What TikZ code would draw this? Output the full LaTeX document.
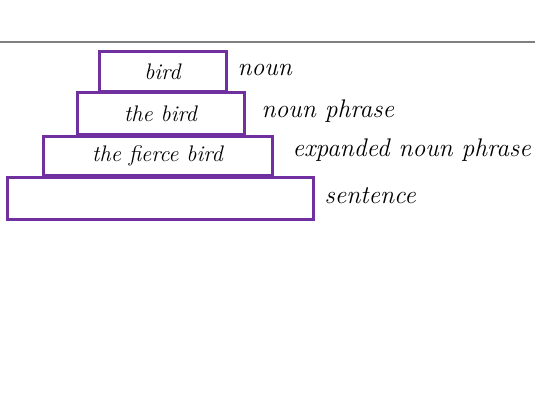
\documentclass[tikz,border=0pt]{standalone}
\usepackage{tikz}
\usetikzlibrary{
    positioning % for placing the labels next to the boxes
}
\definecolor{stepviolet}{RGB}{112,48,160}

\begin{document}
\begin{tikzpicture}[
    x=1pt,y=-1pt,
    every box/.style   = {draw=stepviolet,line width=3pt,inner sep=0pt,
                          font=\fontsize{22.5}{24}\selectfont\itshape},
    every label/.style = {inner sep=0pt,anchor=west,
                          font=\fontsize{25.5}{28}\selectfont\itshape}
]

% page and rule at the top
    \useasboundingbox (0,0) rectangle (535,401);
    \coordinate (rl) at (0,42);
    \coordinate (rr) at (535,42);
    \draw [black!50,line width=1.2pt] (rl) -- (rr);

% stacked boxes
    \node [every box,minimum width=127pt,minimum height=40pt] (b1) at (162.5,72)  {bird};
    \node [every box,minimum width=167pt,minimum height=41pt] (b2) at (160.5,113.5) {the bird};
    \node [every box,minimum width=229pt,minimum height=39pt] (b3) at (157.5,155.5) {the fierce bird};
    \node [every box,minimum width=306pt,minimum height=42pt] (b4) at (160,198)  {};

% word classes
    \node [every label,right=10pt of b1.east,yshift=2pt] (l1) {noun};
    \node [every label,right=16pt of b2.east,yshift=2pt] (l2) {noun phrase};
    \node [every label,right=19pt of b3.east,yshift=5pt] (l3) {expanded noun phrase};
    \node [every label,right=10pt of b4.east,yshift=2pt] (l4) {sentence};

\end{tikzpicture}
\end{document}
